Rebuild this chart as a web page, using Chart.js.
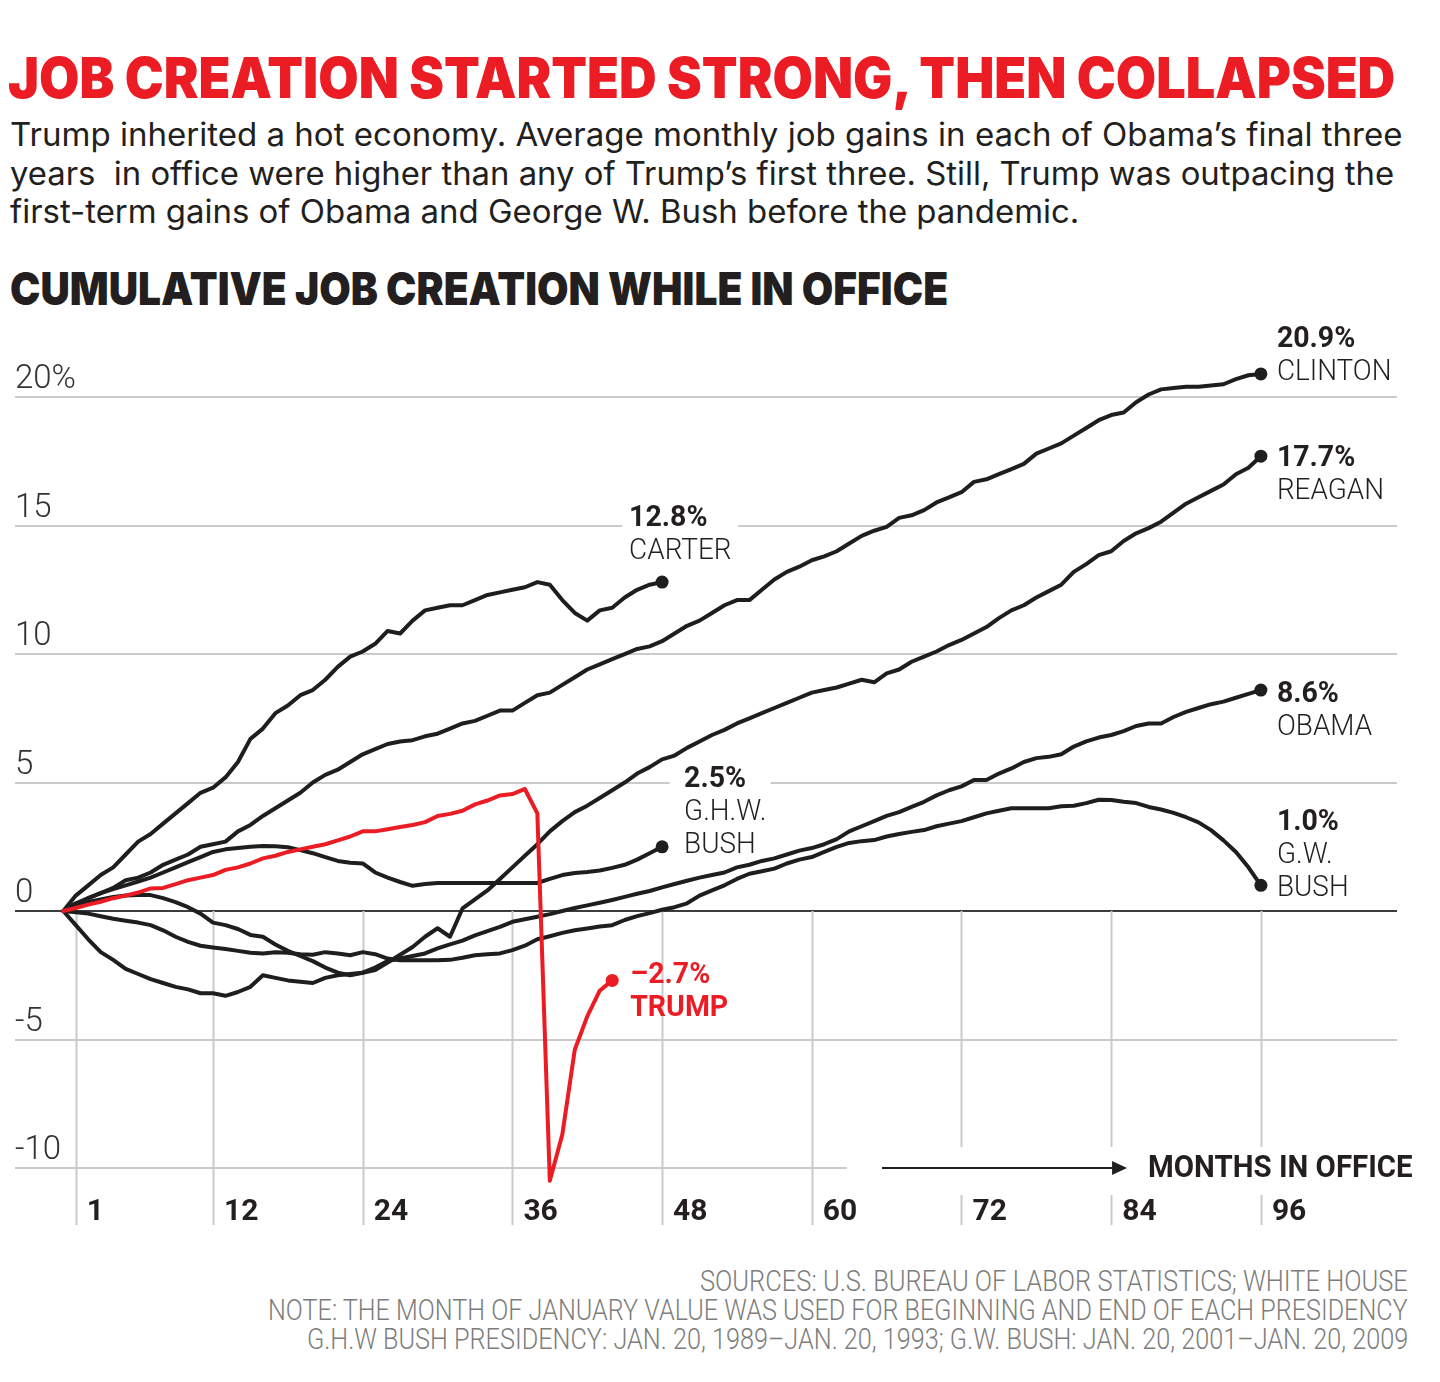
<!DOCTYPE html>
<html lang="en">
<head>
<meta charset="utf-8">
<title>Cumulative job creation while in office</title>
<script src="https://cdn.jsdelivr.net/npm/chart.js@4.4.1/dist/chart.umd.min.js"></script>
<style>
  html, body { margin: 0; padding: 0; background: #fff; }
  body { position: relative; width: 1440px; height: 1382px; overflow: hidden; color: #231f20; font-family: Inter, Lato, "Noto Sans", sans-serif; }
  .txt { position: absolute; display: inline-block; white-space: pre; transform-origin: 0 0; }
  #title { left: 8px; top: 50px; font-size: 56px; line-height: 56px; font-weight: 900; color: #ec1c24; }
  .sub { left: 10px; font-size: 32px; line-height: 38.5px; font-weight: 400; }
  #head { left: 10px; top: 265px; font-size: 46px; line-height: 46px; font-weight: 900; }
  .foot { right: 32px; font-family: Roboto, "DejaVu Sans Condensed", sans-serif; font-weight: 300; font-size: 30px; line-height: 29px; color: #7d7d7d; transform-origin: 100% 0; }
  #wrap { position: absolute; left: 0; top: 280px; width: 1440px; height: 977px; }
</style>
</head>
<body>
<div id="title" class="txt">JOB CREATION STARTED STRONG, THEN COLLAPSED</div>
<div id="sub1" class="txt sub" style="top:116px">Trump inherited a hot economy. Average monthly job gains in each of Obama’s final three</div>
<div id="sub2" class="txt sub" style="top:154.5px">years  in office were higher than any of Trump’s first three. Still, Trump was outpacing the</div>
<div id="sub3" class="txt sub" style="top:193px">first-term gains of Obama and George W. Bush before the pandemic.</div>
<div id="head" class="txt">CUMULATIVE JOB CREATION WHILE IN OFFICE</div>
<div id="wrap"><canvas id="chart"></canvas></div>
<div id="foot1" class="txt foot" style="top:1266px">SOURCES: U.S. BUREAU OF LABOR STATISTICS; WHITE HOUSE</div>
<div id="foot2" class="txt foot" style="top:1295px">NOTE: THE MONTH OF JANUARY VALUE WAS USED FOR BEGINNING AND END OF EACH PRESIDENCY</div>
<div id="foot3" class="txt foot" style="top:1324px">G.H.W BUSH PRESIDENCY: JAN. 20, 1989–JAN. 20, 1993; G.W. BUSH: JAN. 20, 2001–JAN. 20, 2009</div>

<script>
// months in office, 0 = inauguration
const months = Array.from({ length: 97 }, (_, i) => i);

// cumulative job growth, %
const trump = [0,0.12,0.25,0.36,0.5,0.6,0.72,0.88,0.9,1.05,1.2,1.3,1.4,1.6,1.7,1.85,2.05,2.15,2.3,2.4,2.5,2.6,2.75,2.9,3.1,3.1,3.18,3.27,3.35,3.46,3.7,3.78,3.9,4.15,4.3,4.5,4.55,4.75,3.8,-10.5,-8.7,-5.4,-4.1,-3.1,-2.7];
const carter = [0,0.6,1.0,1.4,1.7,2.2,2.7,3.0,3.4,3.8,4.2,4.6,4.8,5.2,5.8,6.7,7.1,7.7,8.0,8.4,8.6,9.0,9.5,9.9,10.1,10.4,10.9,10.8,11.3,11.7,11.8,11.9,11.9,12.1,12.3,12.4,12.5,12.6,12.8,12.7,12.1,11.6,11.3,11.7,11.8,12.2,12.5,12.7,12.8];
const clinton = [0,0.3,0.5,0.7,0.9,1.2,1.3,1.5,1.8,2.0,2.2,2.5,2.6,2.7,3.1,3.35,3.7,4.0,4.3,4.6,5.0,5.3,5.5,5.8,6.1,6.3,6.5,6.6,6.65,6.8,6.9,7.1,7.3,7.4,7.6,7.8,7.8,8.1,8.4,8.5,8.8,9.1,9.4,9.6,9.8,10.0,10.2,10.3,10.5,10.8,11.1,11.3,11.6,11.9,12.1,12.1,12.5,12.9,13.2,13.4,13.65,13.8,14.0,14.3,14.6,14.8,14.95,15.3,15.4,15.6,15.9,16.1,16.3,16.7,16.8,17.0,17.2,17.4,17.8,18.0,18.2,18.5,18.8,19.1,19.3,19.4,19.8,20.1,20.3,20.35,20.4,20.4,20.45,20.5,20.7,20.85,20.9];
const reagan = [0,0.2,0.35,0.45,0.55,0.6,0.62,0.62,0.5,0.35,0.15,-0.1,-0.45,-0.55,-0.7,-0.93,-1.0,-1.3,-1.55,-1.75,-1.95,-2.2,-2.4,-2.5,-2.4,-2.3,-2.0,-1.7,-1.4,-1.0,-0.67,-1.0,0.1,0.45,0.8,1.25,1.7,2.15,2.6,3.1,3.5,3.85,4.1,4.4,4.7,5.0,5.35,5.6,5.9,6.05,6.35,6.6,6.85,7.05,7.3,7.5,7.7,7.9,8.1,8.3,8.5,8.6,8.7,8.85,9.0,8.9,9.25,9.4,9.7,9.9,10.1,10.35,10.55,10.8,11.05,11.4,11.7,11.9,12.2,12.45,12.7,13.2,13.5,13.85,14.0,14.4,14.7,14.9,15.15,15.5,15.85,16.1,16.35,16.6,17.0,17.25,17.7];
const obama = [0,-0.55,-1.1,-1.6,-1.9,-2.25,-2.45,-2.65,-2.8,-2.95,-3.05,-3.2,-3.2,-3.3,-3.15,-2.95,-2.5,-2.6,-2.7,-2.75,-2.8,-2.6,-2.5,-2.45,-2.4,-2.2,-1.95,-1.85,-1.75,-1.65,-1.45,-1.3,-1.15,-0.95,-0.78,-0.62,-0.42,-0.32,-0.22,-0.12,0.0,0.12,0.22,0.32,0.43,0.55,0.67,0.78,0.92,1.05,1.18,1.3,1.4,1.5,1.7,1.8,1.95,2.05,2.2,2.35,2.45,2.6,2.8,3.1,3.3,3.5,3.7,3.85,4.05,4.25,4.5,4.7,4.85,5.1,5.1,5.35,5.55,5.8,5.95,6.0,6.1,6.4,6.6,6.75,6.85,7.0,7.2,7.3,7.3,7.55,7.75,7.9,8.05,8.15,8.3,8.45,8.6];
const ghwBush = [0,0.25,0.5,0.7,0.85,1.0,1.15,1.3,1.5,1.7,1.9,2.1,2.3,2.4,2.45,2.5,2.53,2.52,2.48,2.37,2.25,2.1,1.95,1.88,1.85,1.5,1.3,1.13,0.98,1.05,1.09,1.09,1.09,1.09,1.09,1.09,1.09,1.09,1.09,1.25,1.4,1.48,1.52,1.58,1.68,1.8,2.0,2.25,2.5];
const gwBush = [0,-0.05,-0.1,-0.2,-0.3,-0.38,-0.45,-0.55,-0.75,-1.0,-1.2,-1.35,-1.42,-1.48,-1.55,-1.62,-1.65,-1.6,-1.62,-1.68,-1.7,-1.6,-1.65,-1.72,-1.6,-1.68,-1.85,-1.92,-1.92,-1.92,-1.92,-1.9,-1.82,-1.72,-1.68,-1.65,-1.52,-1.35,-1.1,-0.98,-0.85,-0.75,-0.68,-0.6,-0.55,-0.35,-0.2,-0.08,0.05,0.15,0.3,0.6,0.8,1.0,1.25,1.45,1.55,1.65,1.85,2.0,2.1,2.3,2.5,2.65,2.72,2.76,2.9,3.0,3.08,3.15,3.3,3.4,3.5,3.65,3.8,3.9,4.0,4.0,4.0,4.0,4.08,4.1,4.2,4.33,4.32,4.25,4.2,4.05,3.95,3.82,3.65,3.45,3.15,2.75,2.3,1.7,1.0];

const seriesNames = ['Trump', 'Carter', 'Clinton', 'Reagan', 'Obama', 'G.H.W. Bush', 'G.W. Bush'];
const seriesValues = [trump, carter, clinton, reagan, obama, ghwBush, gwBush];
const endLabels = [
  ['–2.7%', 'TRUMP'],
  ['12.8%', 'CARTER'],
  ['20.9%', 'CLINTON'],
  ['17.7%', 'REAGAN'],
  ['8.6%', 'OBAMA'],
  ['2.5%', 'G.H.W.', 'BUSH'],
  ['1.0%', 'G.W.', 'BUSH']
];
const yTicks = [-10, -5, 0, 5, 10, 15, 20];
const xTicks = [1, 12, 24, 36, 48, 60, 72, 84, 96];

const RED = '#ec1c24';
const INK = '#231f20';
const FONT = "Roboto, 'DejaVu Sans Condensed', sans-serif";

// where each end label sits, relative to the end dot (first baseline)
const labelPlace = [
  { dx: 18, dy: 3 },
  { dx: -33, dy: -56 },
  { dx: 16, dy: -27 },
  { dx: 16, dy: 10 },
  { dx: 16, dy: 12 },
  { dx: 22, dy: -60 },
  { dx: 16, dy: -55 }
];

function fitText(id, width) {
  const el = document.getElementById(id);
  el.style.transform = 'scaleX(' + (width / el.offsetWidth).toFixed(4) + ')';
}
fitText('title', 1387);
fitText('sub1', 1393);
fitText('sub2', 1384);
fitText('sub3', 1069);
fitText('head', 938);
fitText('foot1', 708);
fitText('foot2', 1140);
fitText('foot3', 1101);

// canvas text squeezed sideways, to get close to the condensed face of the original
function squeezedText(ctx, text, x, y, font, squeeze) {
  ctx.save();
  ctx.font = font;
  ctx.translate(x, y);
  ctx.scale(squeeze, 1);
  ctx.fillText(text, 0, 0);
  ctx.restore();
}

const guides = {
  id: 'guides',
  beforeDatasetsDraw(chart) {
    const { ctx, chartArea, scales: { x, y } } = chart;
    const y0 = y.getPixelForValue(0);
    const yb = y.getPixelForValue(-10);
    ctx.save();
    // gaps in gridlines behind the Carter and G.H.W. Bush labels
    ctx.fillStyle = '#fff';
    ctx.fillRect(x.getPixelForValue(44.8), y.getPixelForValue(15) - 3, x.getPixelForValue(54.1) - x.getPixelForValue(44.8), 6);
    ctx.fillRect(x.getPixelForValue(48.6), y.getPixelForValue(5) - 3, x.getPixelForValue(56.7) - x.getPixelForValue(48.6), 6);
    ctx.strokeStyle = '#cacaca';
    ctx.lineWidth = 2;
    // shortened -10 line
    ctx.beginPath();
    ctx.moveTo(chartArea.left, yb);
    ctx.lineTo(x.getPixelForValue(62.8), yb);
    ctx.stroke();
    // month lines below zero
    xTicks.forEach(m => {
      const px = Math.round(x.getPixelForValue(m)) + 0.5;
      ctx.beginPath();
      if (m >= 72) {
        ctx.moveTo(px, y0); ctx.lineTo(px, yb - 21);
        ctx.moveTo(px, yb + 27); ctx.lineTo(px, yb + 57);
      } else {
        ctx.moveTo(px, y0); ctx.lineTo(px, yb + 57);
      }
      ctx.stroke();
    });
    ctx.restore();
  },
  afterDraw(chart) {
    const { ctx, scales: { x, y } } = chart;
    ctx.save();
    ctx.textAlign = 'left';
    ctx.textBaseline = 'alphabetic';
    chart.data.datasets.forEach((ds, i) => {
      const meta = chart.getDatasetMeta(i);
      const pt = meta.data[meta.data.length - 1];
      const place = labelPlace[i];
      ctx.fillStyle = i === 0 ? RED : INK;
      endLabels[i].forEach((line, j) => {
        const bold = j === 0 || i === 0;
        squeezedText(ctx, line, pt.x + place.dx, pt.y + place.dy + j * 33,
          (bold ? 'bold ' : '300 ') + '30px ' + FONT, bold ? 0.95 : 0.93);
      });
    });
    // axis arrow and title
    const yb = y.getPixelForValue(-10);
    const tip = x.getPixelForValue(85.27);
    ctx.strokeStyle = INK;
    ctx.fillStyle = INK;
    ctx.lineWidth = 2;
    ctx.beginPath();
    ctx.moveTo(x.getPixelForValue(65.63), yb);
    ctx.lineTo(tip - 10, yb);
    ctx.stroke();
    ctx.beginPath();
    ctx.moveTo(tip, yb);
    ctx.lineTo(tip - 15, yb - 7);
    ctx.lineTo(tip - 15, yb + 7);
    ctx.closePath();
    ctx.fill();
    ctx.textBaseline = 'middle';
    squeezedText(ctx, 'MONTHS IN OFFICE', x.getPixelForValue(86.95), yb + 1, 'bold 32px ' + FONT, 0.92);
    ctx.restore();
  }
};

const datasets = seriesValues.map((vals, i) => ({
  label: seriesNames[i],
  data: vals.map((v, k) => ({ x: months[k], y: v })),
  borderColor: i === 0 ? RED : '#1e1e1e',
  backgroundColor: i === 0 ? RED : '#1e1e1e',
  borderWidth: 4,
  tension: 0,
  clip: false,
  pointRadius: c => (c.dataIndex === vals.length - 1 ? 6.5 : 0),
  pointBorderWidth: 0,
  pointHoverRadius: 0
}));

new Chart(document.getElementById('chart'), {
  type: 'line',
  data: { datasets },
  options: {
    responsive: true,
    maintainAspectRatio: false,
    animation: false,
    events: [],
    layout: { padding: { left: 15, right: 43, top: 40, bottom: 0 } },
    elements: { line: { borderJoinStyle: 'round', borderCapStyle: 'round' } },
    plugins: { legend: { display: false }, tooltip: { enabled: false } },
    scales: {
      x: {
        type: 'linear',
        min: -3.872,
        max: 106.91,
        afterBuildTicks: s => { s.ticks = xTicks.map(v => ({ value: v })); },
        grid: { display: false, drawTicks: false },
        border: { display: false },
        ticks: {
          autoSkip: false, maxRotation: 0, align: 'start', labelOffset: 11, padding: 26.5,
          color: INK, font: { family: FONT, size: 30, weight: 'bold', lineHeight: 1.2 },
          callback: v => String(v)
        }
      },
      y: {
        min: -10,
        max: 23,
        afterBuildTicks: s => { s.ticks = yTicks.map(v => ({ value: v })); },
        grid: {
          drawTicks: false,
          lineWidth: 2,
          color: c => (c.tick.value === 0 ? '#3c3c3c' : (c.tick.value === -10 ? 'rgba(0,0,0,0)' : '#cacaca'))
        },
        border: { display: false },
        ticks: {
          mirror: true, padding: 0, labelOffset: -17,
          color: '#333', font: { family: FONT, size: 33, weight: 300, lineHeight: 1 },
          callback: v => (v === 20 ? '20%' : String(v))
        }
      }
    }
  },
  plugins: [guides]
});
</script>
</body>
</html>
